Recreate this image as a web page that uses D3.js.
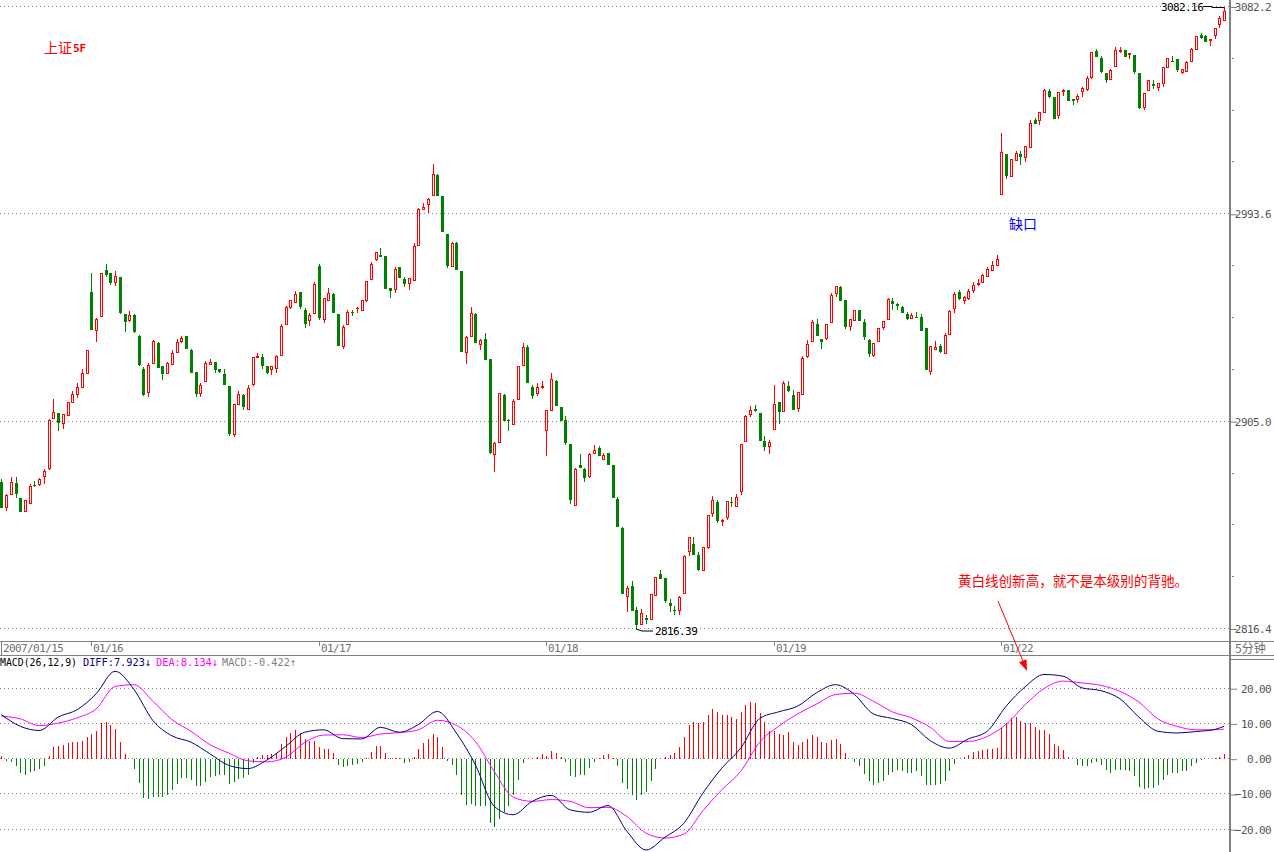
<!DOCTYPE html>
<html>
<head>
<meta charset="utf-8">
<script src="https://cdn.jsdelivr.net/npm/d3@7"></script>
<style>
  html, body { margin: 0; padding: 0; background: #fff; }
  svg { display: block; }
</style>
</head>
<body>
<svg id="chart" width="1274" height="852"></svg>
<script>
// 5-minute bars, Shanghai composite, 2007/01/15 (tail) .. 2007/01/22
// each row: [open, high, low, close]
const ohlc = [
[2879.2,2880.1,2867.7,2867.7],[2868.0,2873.8,2866.8,2873.3],[2873.6,2881.0,2873.3,2878.7],[2878.7,2881.0,2872.1,2873.8],
[2872.0,2872.3,2866.1,2866.1],[2866.5,2871.4,2866.1,2871.0],[2869.7,2878.1,2869.7,2877.1],[2877.8,2879.5,2876.8,2877.5],
[2878.1,2880.6,2877.5,2880.1],[2881.2,2884.6,2878.1,2883.5],[2884.9,2905.9,2884.1,2905.3],[2906.0,2914.3,2906.0,2908.6],
[2908.6,2908.6,2900.7,2904.1],[2903.9,2908.0,2901.6,2907.7],[2907.3,2913.2,2907.0,2912.9],[2913.1,2918.0,2912.6,2916.3],
[2916.5,2921.1,2914.8,2919.3],[2919.3,2927.5,2919.3,2925.3],[2925.4,2935.1,2925.1,2935.1],
// 01/16
[2960.0,2968.2,2943.9,2943.9],[2943.9,2949.0,2938.8,2948.3],[2949.6,2968.0,2949.4,2968.0],[2969.8,2972.0,2966.4,2967.3],
[2968.5,2968.5,2963.1,2964.1],[2964.1,2969.0,2962.7,2966.8],[2966.4,2966.4,2951.0,2951.3],[2951.0,2951.0,2943.0,2947.3],
[2947.9,2951.9,2947.3,2950.0],[2950.5,2950.7,2942.6,2943.3],[2941.6,2941.9,2928.4,2928.8],[2927.1,2928.0,2915.9,2916.1],
[2917.1,2929.8,2915.2,2928.7],[2929.5,2939.8,2929.5,2938.9],[2938.5,2939.0,2927.6,2927.6],[2928.4,2928.4,2922.8,2925.1],
[2925.2,2930.1,2925.0,2929.6],[2929.1,2935.2,2928.8,2933.8],[2934.5,2939.9,2934.5,2938.5],[2939.2,2941.3,2938.5,2940.3],
[2941.2,2941.2,2935.8,2935.8],[2935.3,2935.8,2925.5,2925.5],[2925.8,2925.8,2915.5,2916.5],[2916.7,2921.2,2915.2,2920.1],
[2922.1,2930.5,2922.1,2929.5],[2929.2,2931.4,2928.9,2930.1],[2930.1,2930.1,2925.5,2926.7],[2927.4,2927.4,2925.4,2925.8],
[2925.2,2927.1,2920.4,2920.4],[2920.2,2920.2,2898.6,2899.4],[2899.4,2912.0,2898.2,2912.0],[2912.0,2918.1,2912.0,2916.3],
[2916.0,2916.4,2909.6,2911.0],[2909.9,2920.3,2909.9,2918.8],[2920.5,2932.1,2919.9,2932.1],[2932.2,2934.2,2931.9,2932.6],
[2932.5,2933.5,2927.1,2928.5],[2928.4,2928.4,2925.0,2925.4],[2927.0,2928.4,2924.7,2928.4],[2927.4,2933.1,2925.7,2932.6],
[2933.1,2946.7,2932.8,2945.3],[2946.2,2954.1,2946.2,2953.4],[2953.7,2956.4,2952.9,2956.4],[2955.8,2960.8,2955.8,2959.0],
[2960.0,2960.0,2952.9,2953.7],[2952.3,2953.4,2944.7,2946.4],[2947.9,2951.3,2945.6,2950.0],
// 01/17
[2950.9,2964.3,2950.9,2963.4],[2971.5,2972.0,2948.1,2949.0],[2948.3,2957.3,2946.9,2957.3],[2956.4,2962.1,2956.4,2959.4],
[2959.4,2959.9,2951.4,2951.4],[2950.6,2950.6,2937.0,2937.0],[2937.0,2945.9,2935.9,2945.0],[2946.2,2952.7,2946.2,2951.3],
[2951.7,2952.7,2949.9,2951.3],[2953.0,2953.6,2951.3,2953.3],[2952.4,2956.7,2952.0,2956.4],[2956.4,2965.1,2956.0,2964.7],
[2965.4,2973.2,2965.4,2972.0],[2974.0,2977.2,2973.5,2977.2],[2975.8,2979.2,2975.1,2975.1],[2975.4,2975.4,2961.3,2961.6],
[2962.1,2962.1,2957.5,2960.5],[2961.1,2971.0,2959.9,2969.7],[2971.0,2971.0,2966.3,2966.3],[2965.8,2966.7,2962.4,2963.5],
[2963.7,2965.8,2961.1,2965.8],[2965.0,2981.2,2965.0,2979.5],[2980.0,2996.0,2980.0,2995.5],[2995.6,2998.4,2995.3,2996.4],
[2997.5,3000.5,2994.0,2999.6],[3001.3,3014.7,3001.3,3010.3],[3010.0,3010.7,3001.1,3001.1],[3001.3,3001.3,2985.8,2985.8],
[2985.1,2985.1,2970.4,2971.5],[2971.2,2981.5,2971.2,2980.8],[2981.2,2981.7,2969.5,2969.5],[2969.0,2969.0,2934.5,2934.5],
[2934.5,2941.2,2929.3,2940.8],[2941.3,2953.6,2941.3,2950.9],[2951.0,2951.3,2938.2,2938.6],[2937.9,2940.3,2935.3,2939.3],
[2939.9,2942.5,2931.1,2931.1],[2931.4,2931.4,2890.8,2891.2],[2890.9,2896.0,2883.2,2895.3],[2895.8,2916.7,2895.8,2916.7],
[2916.0,2916.8,2905.0,2905.0],[2905.3,2906.0,2900.6,2904.9],[2903.7,2914.3,2903.5,2913.4],
// 01/18
[2914.4,2928.4,2914.0,2928.4],[2928.8,2938.2,2928.5,2936.5],[2936.5,2937.6,2921.5,2921.5],[2919.8,2920.3,2914.4,2915.7],
[2917.0,2921.4,2915.7,2919.3],[2919.3,2922.0,2918.8,2919.8],[2901.2,2909.4,2890.3,2909.4],[2909.7,2925.4,2909.7,2922.8],
[2922.0,2922.4,2911.4,2911.4],[2910.9,2910.9,2905.0,2905.0],[2905.7,2907.0,2894.9,2895.6],[2895.1,2895.1,2869.5,2871.2],
[2869.0,2885.2,2868.7,2884.4],[2886.1,2890.8,2884.9,2884.9],[2884.4,2884.9,2878.9,2880.8],[2881.4,2891.6,2880.8,2890.8],
[2891.1,2895.0,2891.1,2892.3],[2893.6,2894.6,2890.2,2890.2],[2888.5,2891.6,2888.5,2890.3],[2891.2,2891.6,2886.4,2886.4],
[2886.1,2886.1,2872.1,2872.1],[2871.8,2872.4,2859.7,2859.7],[2859.3,2859.6,2831.2,2831.2],[2830.0,2834.4,2823.4,2833.4],
[2834.4,2836.9,2823.8,2823.8],[2824.5,2825.5,2816.39,2817.7],[2818.2,2824.8,2818.2,2822.7],[2821.0,2822.0,2818.4,2820.1],
[2820.1,2830.8,2820.1,2830.8],[2830.4,2838.3,2830.4,2838.1],[2839.8,2841.6,2837.5,2837.5],[2837.8,2837.8,2827.2,2828.0],
[2827.4,2829.1,2823.4,2826.0],[2824.2,2826.2,2822.3,2823.8],[2824.0,2830.1,2822.3,2829.5],[2831.2,2847.9,2831.2,2847.2],
[2849.5,2855.2,2847.2,2855.2],[2852.6,2855.3,2848.0,2848.0],[2848.0,2848.9,2840.9,2841.6],[2841.3,2850.9,2841.1,2850.9],
[2850.9,2865.1,2850.2,2864.6],[2865.7,2873.1,2863.9,2871.0],[2870.4,2871.1,2861.4,2862.3],[2862.1,2863.3,2860.1,2862.7],
[2864.0,2871.0,2862.9,2870.6],[2870.6,2872.4,2868.3,2870.1],[2868.5,2874.0,2868.3,2872.3],[2875.1,2895.0,2873.6,2895.0],
[2896.4,2907.6,2896.4,2907.0],[2907.7,2911.3,2906.7,2909.6],[2910.4,2912.0,2908.8,2909.3],[2908.7,2908.7,2896.4,2896.4],
[2896.6,2898.5,2892.2,2893.9],[2894.1,2896.8,2890.9,2895.9],
// 01/19
[2901.3,2920.3,2901.3,2912.0],[2913.0,2913.0,2903.7,2908.8],[2909.1,2922.0,2908.8,2921.0],[2920.1,2922.0,2917.3,2918.1],
[2916.3,2918.4,2909.7,2909.7],[2910.3,2917.1,2908.8,2917.1],[2916.3,2933.0,2916.3,2931.8],[2932.8,2939.5,2932.1,2937.6],
[2939.1,2948.3,2938.8,2947.0],[2946.7,2948.5,2941.3,2941.3],[2940.2,2940.2,2935.8,2938.8],[2940.3,2946.2,2939.8,2946.2],
[2947.3,2959.9,2947.3,2958.6],[2959.7,2962.6,2958.1,2962.6],[2962.3,2962.9,2956.3,2956.3],[2956.6,2956.6,2944.2,2945.2],
[2945.3,2948.5,2943.4,2948.5],[2948.2,2952.7,2948.2,2952.3],[2952.7,2952.7,2947.7,2947.7],[2947.2,2948.5,2939.6,2940.9],
[2939.5,2940.3,2932.3,2933.5],[2933.2,2938.1,2932.5,2938.1],[2939.0,2944.6,2939.0,2944.6],[2945.2,2947.5,2943.8,2947.5],
[2948.3,2957.5,2948.3,2957.0],[2956.2,2957.5,2952.6,2954.9],[2954.9,2955.6,2952.3,2954.1],[2954.0,2954.4,2951.1,2951.1],
[2951.0,2951.6,2948.1,2948.6],[2948.8,2951.2,2948.8,2950.0],[2949.7,2951.6,2949.0,2949.4],[2949.7,2951.0,2943.5,2943.5],
[2945.0,2945.0,2926.7,2926.7],[2926.2,2936.8,2924.8,2936.8],[2935.8,2939.4,2935.8,2936.4],[2937.3,2937.9,2934.0,2934.5],
[2933.8,2942.8,2933.8,2941.6],[2941.9,2952.3,2941.9,2951.9],[2953.0,2960.0,2951.1,2959.0],[2960.4,2961.0,2956.6,2957.0],
[2956.4,2958.4,2955.0,2957.7],[2957.5,2961.6,2956.9,2960.3],[2961.0,2964.3,2959.7,2962.9],[2963.3,2965.6,2962.9,2963.8],
[2964.1,2968.0,2964.1,2967.1],[2967.0,2970.7,2966.4,2969.7],[2969.3,2973.3,2969.3,2971.5],[2971.4,2975.8,2971.4,2974.2],
// 01/22
[3001.7,3028.0,3001.7,3019.7],[3019.3,3019.3,3008.4,3009.7],[3009.7,3016.7,3009.7,3016.7],[3016.3,3020.4,3016.3,3019.4],
[3019.0,3020.4,3014.4,3017.8],[3017.8,3022.4,3015.7,3022.4],[3022.0,3033.5,3021.6,3032.1],[3033.5,3034.6,3031.8,3032.2],
[3033.4,3036.8,3031.6,3036.8],[3036.8,3046.9,3036.8,3046.3],[3046.0,3046.9,3042.9,3043.4],[3043.4,3043.4,3034.0,3034.0],
[3035.7,3045.3,3034.3,3045.3],[3045.7,3046.9,3043.9,3046.2],[3046.6,3046.6,3041.7,3041.7],[3042.5,3042.5,3040.0,3042.0],
[3042.6,3044.7,3040.9,3043.6],[3045.7,3048.0,3043.4,3047.3],[3046.9,3052.3,3046.0,3051.3],[3051.9,3062.4,3051.4,3062.4],
[3063.3,3064.1,3060.5,3060.5],[3060.1,3061.0,3053.9,3054.3],[3053.6,3053.6,3049.7,3050.7],[3051.0,3055.7,3050.7,3054.8],
[3056.4,3064.8,3056.4,3063.4],[3063.0,3065.1,3062.4,3063.4],[3063.4,3063.4,3060.7,3060.7],[3061.7,3062.5,3059.7,3062.1],
[3061.3,3061.3,3053.4,3054.1],[3053.6,3053.6,3038.3,3038.7],[3039.2,3045.3,3038.0,3044.9],[3046.2,3050.9,3046.2,3050.5],
[3048.9,3050.6,3047.0,3048.1],[3047.7,3049.2,3046.3,3049.2],[3049.2,3056.3,3048.0,3056.0],[3056.0,3060.1,3056.0,3060.1],
[3058.7,3061.1,3058.4,3058.4],[3059.9,3059.9,3054.4,3054.9],[3054.0,3055.2,3053.4,3055.2],[3054.3,3059.0,3054.3,3058.3],
[3058.6,3064.6,3058.6,3063.8],[3063.7,3069.2,3063.7,3069.2],[3069.9,3070.8,3068.4,3068.8],[3069.8,3070.1,3066.9,3066.9],
[3067.5,3068.4,3065.4,3068.0],[3069.9,3072.9,3068.2,3072.7],[3074.6,3078.1,3073.1,3076.9],[3076.2,3082.16,3075.9,3080.2]
];

// MACD histogram, one value per bar
const macdHist = [
0.85,-0.6,-0.95,-2.2,-4.1,-4.5,-3.9,-3.4,-2.9,-2.2,0.85,3.2,3.5,3.9,4.5,4.7,4.8,5.1,6.25,7.1,
8.0,10.2,10.4,9.5,8.5,4.7,1.4,-0.1,-2.9,-6.9,-11.2,-11.4,-11.0,-11.0,-11.0,-10.2,-8.8,-7.1,-5.5,-5.5,
-6.0,-7.7,-7.7,-6.7,-5.3,-4.8,-4.5,-4.5,-7.1,-6.7,-5.9,-5.5,-4.5,-1.2,0.6,1.0,1.0,1.2,1.6,4.2,
6.2,7.2,8.1,7.4,5.7,5.1,5.1,3.2,2.8,2.8,1.5,-1.9,-2.3,-2.1,-1.9,-1.4,-0.8,0.2,1.9,3.5,
3.7,1.6,0.2,0.2,0.1,-1.1,-0.9,0.4,2.8,4.5,5.7,7.0,6.2,3.4,-0.6,-1.9,-4.5,-10.4,-13.1,-12.8,
-13.5,-13.5,-13.5,-18.1,-19.5,-17.1,-15.2,-13.4,-10.2,-6.0,-1.1,-0.1,0.1,0.6,1.3,0.85,2.3,1.6,0.5,-0.8,
-4.8,-5.1,-4.5,-4.5,-2.5,-0.8,0.2,0.95,1.3,0.1,-2.0,-6.9,-8.5,-10.4,-11.6,-10.2,-9.5,-6.4,-2.8,0,
0.6,1.1,1.6,3.2,6.25,9.5,10.4,10.0,10.4,12.4,14.2,13.3,12.4,12.4,11.7,11.3,13.3,15.1,16.2,15.8,
13.1,10.4,7.8,7.8,7.0,6.6,7.6,4.7,4.0,4.8,5.7,6.6,6.1,4.7,4.5,5.4,5.7,4.2,1.6,0,
-0.8,-2.2,-4.4,-6.4,-7.4,-6.9,-6.3,-4.5,-3.8,-3.3,-3.4,-4.0,-4.1,-3.6,-5.0,-7.6,-7.6,-7.6,-7.2,-6.3,
-3.4,-1.4,0,0.5,1.1,2.0,2.3,2.6,2.7,2.7,3.1,8.7,10.0,11.6,11.7,10.8,10.1,10.0,9.1,8.2,
8.2,7.1,4.3,3.7,2.6,0.6,-0.1,-1.7,-2.2,-2.1,-1.2,-0.9,-1.9,-3.3,-4.0,-3.3,-3.1,-3.3,-3.6,-5.0,
-8.0,-8.5,-8.2,-8.2,-7.4,-6.0,-4.5,-4.1,-4.1,-3.4,-3.4,-2.2,-1.1,-0.3,-0.2,-0.1,0.3,0.6,1.3
];

// DIFF / DEA read every 4th bar
const lineIdx = [0,4,8,12,16,20,24,28,32,36,40,44,48,52,56,60,64,68,72,76,80,84,88,92,96,100,104,108,112,116,
  120,124,128,132,136,140,144,148,152,156,160,164,168,172,176,180,184,188,192,196,200,204,208,212,216,220,224,228,
  232,236,240,244,248,252,256,258];
const diffVals = [12.5,9.2,8.0,11.8,13.9,18.4,24.8,19.6,10.8,6.5,4.7,1.4,-1.9,-2.8,-0.4,3.5,7.5,8.2,5.7,5.6,
  8.9,7.5,9.7,13.4,7.3,-1.7,-13.5,-15.9,-12.1,-10.4,-14.5,-15.2,-13.3,-20.6,-25.9,-22.3,-18.3,-9.8,-2.7,3.0,
  11.4,13.3,14.9,18.7,21.0,18.2,12.7,11.4,9.7,5.1,3.0,5.6,7.8,14.9,20.4,23.9,23.4,20.1,19.3,17.0,
  11.8,7.8,7.3,7.7,8.3,9.2];
const deaVals = [12.1,11.3,9.4,10.1,11.6,14.1,20.5,21.0,16.3,11.1,7.8,4.0,1.6,-0.6,-0.9,0.4,4.6,6.7,6.8,6.0,
  7.0,7.4,8.2,10.9,9.5,4.9,-3.6,-10.9,-12.1,-11.6,-12.1,-13.9,-13.8,-16.4,-21.1,-22.5,-21.4,-14.8,-8.8,-3.6,
  4.7,9.2,12.7,15.5,18.2,18.6,16.3,13.3,11.6,8.9,4.9,4.9,6.3,9.8,15.3,19.9,22.0,21.5,20.8,19.1,
  16.1,11.3,9.2,8.2,8.2,8.4];

const dateLabels = ["2007/01/15", "01/16", "01/17", "01/18", "01/19", "01/22"];
const dateStart = [0, 19, 67, 115, 163, 211];
const priceTicks = [3082.2, 2993.6, 2905.0, 2816.4];
const macdTicks = [20, 10, 0, -10, -20];

const RED = "#ff0000", GREEN = "#008000", NAVY = "#000080", MAGENTA = "#ff00ff", GREY = "#808080";
const MONO = '"DejaVu Sans Mono","Liberation Mono",monospace';
const CJK = '"Noto Sans CJK SC","Noto Sans",sans-serif';
const AX = 1230;   // right axis line

const svg = d3.select("#chart");

const x = d3.scaleLinear().domain([0, ohlc.length - 1]).range([1.3, 1224.2]);
const y = d3.scaleLinear().domain([2816.4, 3082.2]).range([628.5, 6.5]);
const ym = d3.scaleLinear().domain([-20, 20]).range([829.2, 688.2]);
const px = i => Math.round(x(i));
const snap = v => Math.floor(v) + 0.5;

// dotted grids
svg.append("g").selectAll("line").data(priceTicks).join("line")
    .attr("x1", 0).attr("x2", AX - 1)
    .attr("y1", d => snap(y(d))).attr("y2", d => snap(y(d)))
    .attr("stroke", GREY).attr("stroke-dasharray", "1,3");
svg.append("g").selectAll("line").data(macdTicks).join("line")
    .attr("x1", 0).attr("x2", AX - 1)
    .attr("y1", d => snap(ym(d))).attr("y2", d => snap(ym(d)))
    .attr("stroke", GREY).attr("stroke-dasharray", "1,3");

// right axes
function styleAxis(g) {
    g.select(".domain").remove();
    g.selectAll(".tick line").attr("stroke", GREY);
    g.selectAll(".tick text")
        .attr("x", 41).attr("text-anchor", "end")
        .attr("font-family", MONO).attr("font-size", 11).attr("fill", "#555")
        .attr("letter-spacing", "-0.6");
}
svg.append("g").attr("transform", `translate(${AX},0.5)`)
    .call(d3.axisRight(y).tickValues(priceTicks).tickSize(7).tickFormat(d3.format(".1f")))
    .call(styleAxis);
svg.append("g").attr("transform", `translate(${AX},0.5)`)
    .call(d3.axisRight(ym).tickValues(macdTicks).tickSize(7).tickFormat(d3.format(".2f")))
    .call(styleAxis);

// minor marks between price labels
const minor = [];
for (let i = 0; i < priceTicks.length - 1; i++)
    for (let k = 1; k < 4; k++) minor.push(priceTicks[i] + (priceTicks[i + 1] - priceTicks[i]) * k / 4);
svg.append("g").selectAll("rect").data(minor).join("rect")
    .attr("x", AX + 2).attr("y", d => Math.floor(y(d)))
    .attr("width", 2).attr("height", 1).attr("fill", GREY);

// frame lines
svg.append("line").attr("x1", AX).attr("x2", AX).attr("y1", 0).attr("y2", 852)
    .attr("stroke", GREY).attr("stroke-width", 2);
[641.5, 655.5].forEach(v => svg.append("line").attr("x1", 0).attr("x2", 1274)
    .attr("y1", v).attr("y2", v).attr("stroke", GREY));
svg.append("line").attr("x1", 1.5).attr("x2", 1.5).attr("y1", 641).attr("y2", 656).attr("stroke", GREY);
svg.append("line").attr("x1", AX).attr("x2", 1274).attr("y1", 659.5).attr("y2", 659.5).attr("stroke", GREY);

// date row
const dates = svg.append("g");
dates.selectAll("line").data(dateStart.slice(1)).join("line")
    .attr("x1", d => px(d) + 0.5).attr("x2", d => px(d) + 0.5)
    .attr("y1", 642).attr("y2", 646).attr("stroke", GREY);
dates.selectAll("text").data(dateLabels).join("text")
    .attr("x", (d, i) => i === 0 ? 3 : px(dateStart[i]) + 2)
    .attr("y", 652)
    .attr("font-family", MONO).attr("font-size", 11).attr("fill", "#707070")
    .attr("letter-spacing", "-0.6")
    .text(d => d);
svg.append("text").attr("x", 1235).attr("y", 653)
    .attr("font-family", CJK).attr("font-size", 12).attr("fill", "#707070").text("5分钟");

// candles
const up = d => d[3] >= d[0];
const candle = svg.append("g").attr("shape-rendering", "crispEdges")
    .selectAll("g").data(ohlc).join("g")
    .attr("transform", (d, i) => `translate(${px(i)},0)`);
candle.append("line")
    .attr("x1", 0.5).attr("x2", 0.5)
    .attr("y1", d => y(d[1])).attr("y2", d => y(d[2]))
    .attr("stroke", d => up(d) ? RED : GREEN);
candle.append("rect")
    .attr("x", d => up(d) ? -0.5 : -1)
    .attr("width", d => up(d) ? 2 : 3)
    .attr("y", d => y(Math.max(d[0], d[3])))
    .attr("height", d => Math.max(up(d) ? 0.5 : 1, Math.abs(y(d[0]) - y(d[3]))))
    .attr("fill", d => up(d) ? "#fff" : GREEN)
    .attr("stroke", d => up(d) ? RED : "none");

// extreme labels
const hiI = d3.maxIndex(ohlc, d => d[1]);
const loI = d3.minIndex(ohlc, d => d[2]);
svg.append("polyline")
    .attr("points", `1203,6.5 1212,6.5 1212,7.5 ${px(hiI)},7.5`)
    .attr("fill", "none").attr("stroke", "#000");
svg.append("text").attr("x", 1161).attr("y", 10.5)
    .attr("font-family", MONO).attr("font-size", 11).attr("letter-spacing", "-0.6")
    .text(ohlc[hiI][1].toFixed(2));
svg.append("polyline")
    .attr("points", `${px(loI)},${y(ohlc[loI][2]) + 0.5} ${px(loI) + 6},631 653,631`)
    .attr("fill", "none").attr("stroke", "#000");
svg.append("text").attr("x", 655).attr("y", 635)
    .attr("font-family", MONO).attr("font-size", 11).attr("letter-spacing", "-0.6")
    .text(ohlc[loI][2].toFixed(2));

// MACD histogram
svg.append("g").attr("shape-rendering", "crispEdges")
    .selectAll("line").data(macdHist).join("line")
    .attr("x1", (d, i) => px(i) + 0.5).attr("x2", (d, i) => px(i) + 0.5)
    .attr("y1", ym(0)).attr("y2", d => ym(d))
    .attr("stroke", d => d >= 0 ? RED : GREEN);

// DIFF / DEA lines
const lineGen = d3.line().x(d => x(d[0])).y(d => ym(d[1])).curve(d3.curveMonotoneX);
svg.append("path").datum(lineIdx.map((i, k) => [i, deaVals[k]]))
    .attr("d", lineGen).attr("fill", "none").attr("stroke", MAGENTA).attr("stroke-width", 1);
svg.append("path").datum(lineIdx.map((i, k) => [i, diffVals[k]]))
    .attr("d", lineGen).attr("fill", "none").attr("stroke", NAVY).attr("stroke-width", 1);

// MACD title
const title = [
    { t: "MACD(26,12,9)", x: 0, w: 77, c: "#000" },
    { t: "DIFF:7.923↓", x: 83, w: 68, c: NAVY },
    { t: "DEA:8.134↓", x: 156, w: 62, c: MAGENTA },
    { t: "MACD:-0.422↑", x: 222, w: 74, c: GREY }
];
svg.append("g").selectAll("text").data(title).join("text")
    .attr("x", d => d.x).attr("y", 666)
    .attr("textLength", d => d.w).attr("lengthAdjust", "spacingAndGlyphs")
    .attr("font-family", MONO).attr("font-size", 11).attr("fill", d => d.c)
    .text(d => d.t);

// annotations
svg.append("text").attr("x", 44).attr("y", 53)
    .attr("font-family", CJK).attr("font-size", 14).attr("fill", RED).text("上证");
svg.append("text").attr("x", 73).attr("y", 52)
    .attr("font-family", MONO).attr("font-size", 11).attr("font-weight", "bold").attr("fill", RED).text("5F");
svg.append("text").attr("x", 1009).attr("y", 229)
    .attr("font-family", CJK).attr("font-size", 14).attr("fill", "#0000ff").text("缺口");
svg.append("text").attr("x", 958).attr("y", 586)
    .attr("textLength", 230).attr("lengthAdjust", "spacingAndGlyphs")
    .attr("font-family", CJK).attr("font-size", 14).attr("fill", RED)
    .text("黄白线创新高，就不是本级别的背驰。");

// arrow pointing at the DIFF peak
const a0 = [998, 601], a1 = [1027, 671];
const len = Math.hypot(a1[0] - a0[0], a1[1] - a0[1]);
const ux = (a1[0] - a0[0]) / len, uy = (a1[1] - a0[1]) / len;
const bx = a1[0] - ux * 11, by = a1[1] - uy * 11;
svg.append("line").attr("x1", a0[0]).attr("y1", a0[1]).attr("x2", bx).attr("y2", by)
    .attr("stroke", RED).attr("stroke-width", 1);
svg.append("polygon")
    .attr("points", [[a1[0], a1[1]], [bx - uy * 4, by + ux * 4], [bx + uy * 4, by - ux * 4]].map(p => p.join(",")).join(" "))
    .attr("fill", RED);
</script>
</body>
</html>
